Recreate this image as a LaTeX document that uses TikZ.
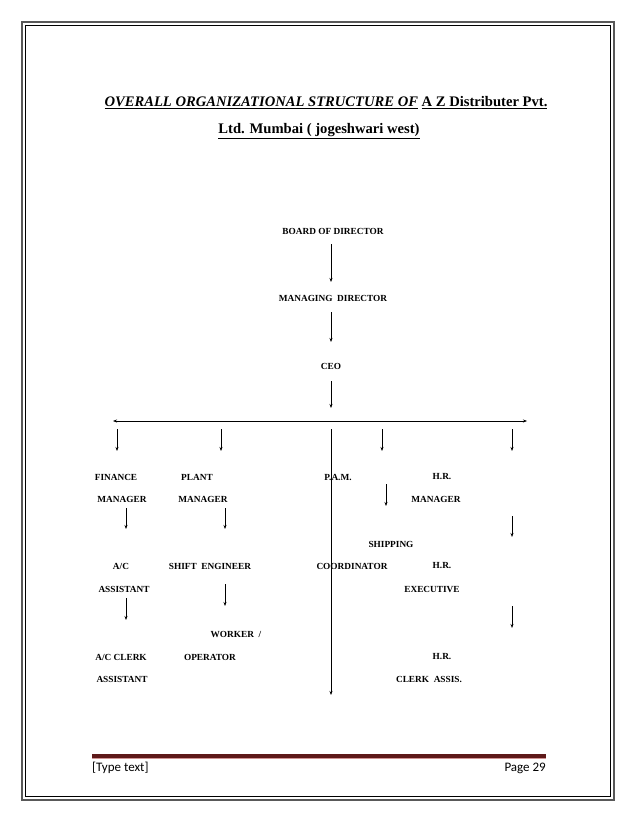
\documentclass[tikz,border=0pt]{standalone}
\usepackage{fontspec}
\setmainfont{Liberation Serif}
\newfontfamily\foot{Carlito}
\usetikzlibrary{arrows.meta}
\begin{document}
\begin{tikzpicture}[x=1pt,y=-1pt,
  lbl/.style={font=\bfseries\fontsize{9.3}{10}\selectfont,inner sep=0pt},
  arr/.style={-{Stealth[length=4pt,width=3pt]},line width=0.6pt}]
\useasboundingbox (0,0) rectangle (638,826);
\draw[line width=1.6pt,gray!70!black] (22,22) rectangle (614,800);
\draw[line width=0.4pt] (25.5,25.5) rectangle (610.5,796.5);
\node[inner sep=0pt,font=\bfseries\fontsize{14.6}{16}\selectfont] (t1) at (326,103) {\underline{\itshape OVERALL ORGANIZATIONAL STRUCTURE OF} \underline{A Z Distributer Pvt.}};
\node[inner sep=0pt,font=\bfseries\fontsize{14.6}{16}\selectfont] (t2) at (319,131) {\underline{Ltd. Mumbai ( jogeshwari west)}};
\node[lbl] (bod) at (333,231) {BOARD OF DIRECTOR};
\node[lbl] (md) at (333,298) {MANAGING\ \ DIRECTOR};
\node[lbl] (ceo) at (331,366) {CEO};
\coordinate (a1) at (331,244); \coordinate (a2) at (331,282);
\coordinate (b1) at (331,312); \coordinate (b2) at (331,342);
\coordinate (c1) at (331,381); \coordinate (c2) at (331,408);
\draw[arr] (a1) -- (a2); \draw[arr] (b1) -- (b2); \draw[arr] (c1) -- (c2);
\coordinate (hl) at (113,421); \coordinate (hr) at (527,421);
\draw[{Stealth[length=4pt,width=3pt]}-{Stealth[length=4pt,width=3pt]},line width=0.6pt] (hl) -- (hr);
\foreach \x/\n in {117/d1,221/d2,382/d4,512/d5}{
  \coordinate (\n s) at (\x,429); \coordinate (\n e) at (\x,451);
  \draw[arr] (\n s) -- (\n e);}
\coordinate (vs) at (331,429); \coordinate (ve) at (331,695);
\draw[arr] (vs) -- (ve);
\node[lbl] (fin1) at (116,477) {FINANCE};
\node[lbl] (fin2) at (122,499) {MANAGER};
\node[lbl] (ac1) at (121,566) {A/C};
\node[lbl] (ac2) at (124,589) {ASSISTANT};
\node[lbl] (acc1) at (121,657) {A/C CLERK};
\node[lbl] (acc2) at (122,679) {ASSISTANT};
\node[lbl] (pl1) at (197,477) {PLANT};
\node[lbl] (pl2) at (203,499) {MANAGER};
\node[lbl] (se) at (210,566) {SHIFT\ \ ENGINEER};
\node[lbl] (wk1) at (236,634) {WORKER\ \ /};
\node[lbl] (wk2) at (210,657) {OPERATOR};
\node[lbl] (pam) at (338,477) {P.A.M.};
\node[lbl] (sh1) at (391,544) {SHIPPING};
\node[lbl] (sh2) at (352,566) {COORDINATOR};
\node[lbl] (hr1) at (442,477) {H.R.};
\node[lbl] (hr2) at (436,499) {MANAGER};
\node[lbl] (he1) at (442,566) {H.R.};
\node[lbl] (he2) at (432,589) {EXECUTIVE};
\node[lbl] (hc1) at (442,657) {H.R.};
\node[lbl] (hc2) at (429,679) {CLERK\ \ ASSIS.};
\foreach \x/\a/\b/\n in {126/508/529/e1,126/598/620/e2,225/508/529/e3,225/584/606/e4,386/484/506/e5,512/516/537/e6,512/606/628/e7}{
  \coordinate (\n s) at (\x,\a); \coordinate (\n e) at (\x,\b);
  \draw[arr] (\n s) -- (\n e);}
\fill[red!30!black!90] (92,754) rectangle (546,757.5);
\fill[red!40!gray!60] (92,757.5) rectangle (546,759);
\node[anchor=west,inner sep=0pt,font=\foot\fontsize{13}{15}\selectfont] (tt) at (92,768) {[Type text]};
\node[anchor=east,inner sep=0pt,font=\foot\fontsize{13}{15}\selectfont] (pg) at (546,768) {Page 29};
\end{tikzpicture}
\end{document}
